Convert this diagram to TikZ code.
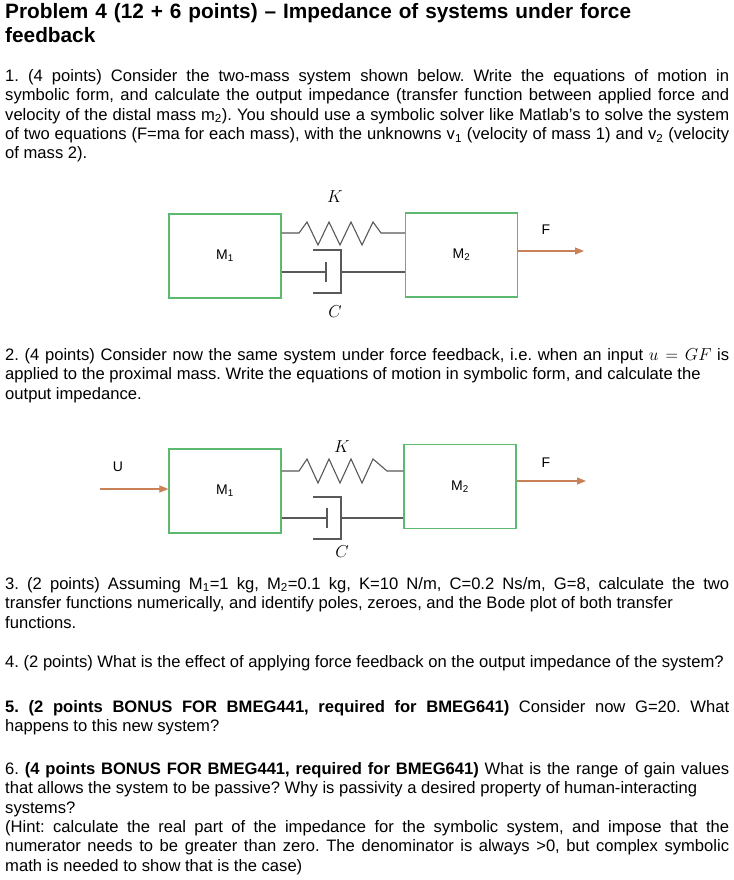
\documentclass[tikz,border=0pt]{standalone}
\usepackage{fontspec}
\setmainfont{Liberation Sans}
\usetikzlibrary{arrows.meta}
\definecolor{boxg}{HTML}{5DB870}
\definecolor{arr}{HTML}{C98158}
\begin{document}
\frenchspacing
\begin{tikzpicture}[x=1pt,y=1pt,
  para/.style={anchor=north west,inner sep=0pt,text width=724pt,align=justify,font=\fontsize{16.6}{19.4}\selectfont\frenchspacing},
  mass/.style={draw=boxg,line width=1.2pt,minimum width=112pt,minimum height=84pt,inner sep=0pt,font=\fontsize{14}{16}\selectfont},
  mech/.style={draw=black!65,line width=1.1pt},
  force/.style={draw=arr,line width=1.1pt,-{Triangle[length=9pt,width=7pt]}},
  lab/.style={font=\fontsize{14}{16}\selectfont},
  mlab/.style={font=\fontsize{16}{18}\selectfont}]
\useasboundingbox[fill=white] (0,0) rectangle (733,-880);
\node[anchor=north west,inner sep=0pt,text width=724pt,align=left,font=\bfseries\fontsize{20.8}{24.5}\selectfont] (title) at (5,-3) {Problem 4 (12 + 6 points) -- Impedance of systems under force\\feedback};
\node[para] (p1) at (5,-69) {1. (4 points) Consider the two-mass system shown below. Write the equations of motion in\linebreak symbolic form, and calculate the output impedance (transfer function between applied force and\linebreak velocity of the distal mass m\textsubscript{2}). You should use a symbolic solver like Matlab's to solve the system\linebreak of two equations (F=ma for each mass), with the unknowns v\textsubscript{1} (velocity of mass 1) and v\textsubscript{2} (velocity\linebreak of mass 2).};
% diagram 1
\node[mass] (a1) at (225,-256) {M\textsubscript{1}};
\node[mass] (a2) at (461.5,-255) {M\textsubscript{2}};
\draw[mech] (a1.east |- 0,-233) -- (299,-233) -- (307,-222) -- (318,-245) -- (329,-222) -- (340,-245) -- (351,-222) -- (362,-245) -- (373,-222) -- (381,-233) -- (a2.west |- 0,-233);
\draw[mech] (a1.east |- 0,-272) -- (326,-272) (326,-262) -- (326,-282);
\draw[mech] (313,-250) -- (341,-250) -- (341,-293) -- (313,-293);
\draw[mech] (341,-272) -- (a2.west |- 0,-272);
\coordinate (f1) at (584,-251);
\draw[force] (a2.east |- f1) -- (f1);
\node[lab] (F1) at (546,-230) {F};
\node[mlab] (K1) at (335,-197) {$K$};
\node[mlab] (C1) at (335,-312) {$C$};
\node[para] (p2) at (5,-348) {2. (4 points) Consider now the same system under force feedback, i.e. when an input $u=GF$ is\linebreak applied to the proximal mass. Write the equations of motion in symbolic form, and calculate the\\output impedance.};
% diagram 2
\node[mass] (b1) at (225,-491) {M\textsubscript{1}};
\node[mass] (b2) at (460,-486.5) {M\textsubscript{2}};
\draw[mech] (b1.east |- 0,-471) -- (299,-471) -- (307,-459) -- (318,-483) -- (329,-459) -- (340,-483) -- (351,-459) -- (362,-483) -- (373,-459) -- (387,-471) -- (b2.west |- 0,-471);
\draw[mech] (b1.east |- 0,-518) -- (327,-518) (327,-508) -- (327,-528);
\draw[mech] (313,-497) -- (341,-497) -- (341,-539) -- (313,-539);
\draw[mech] (341,-518) -- (b2.west |- 0,-518);
\coordinate (u0) at (100,-489);
\draw[force] (u0) -- (b1.west |- u0);
\coordinate (f2) at (586,-481);
\draw[force] (b2.east |- f2) -- (f2);
\node[lab] (U2) at (118,-467) {U};
\node[lab] (F2) at (546,-463) {F};
\node[mlab] (K2) at (342,-447) {$K$};
\node[mlab] (C2) at (342,-552) {$C$};
\node[para] (p3) at (5,-577) {3. (2 points) Assuming M\textsubscript{1}=1 kg, M\textsubscript{2}=0.1 kg, K=10 N/m, C=0.2 Ns/m, G=8, calculate the two\linebreak transfer functions numerically, and identify poles, zeroes, and the Bode plot of both transfer\\functions.};
\node[para] (p4) at (5,-655) {4. (2 points) What is the effect of applying force feedback on the output impedance of the system?};
\node[para] (p5) at (5,-700) {\textbf{5. (2 points BONUS FOR BMEG441, required for BMEG641)} Consider now G=20. What\linebreak happens to this new system?};
\node[para] (p6) at (5,-762) {6. \textbf{(4 points BONUS FOR BMEG441, required for BMEG641)} What is the range of gain values\linebreak that allows the system to be passive? Why is passivity a desired property of human-interacting\\systems?\\(Hint: calculate the real part of the impedance for the symbolic system, and impose that the\linebreak numerator needs to be greater than zero. The denominator is always >0, but complex symbolic\linebreak math is needed to show that is the case)};
\end{tikzpicture}
\end{document}
